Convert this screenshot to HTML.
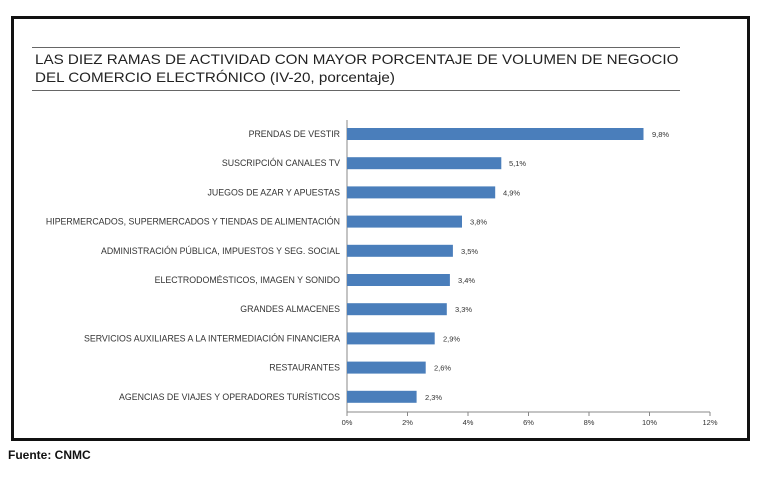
<!DOCTYPE html><html><head><meta charset="utf-8"><style>
body{margin:0;width:768px;height:483px;background:#fff;overflow:hidden;font-family:"Liberation Sans",sans-serif}
</style></head><body>
<div style="position:absolute;left:11px;top:16px;width:733px;height:419px;border:3px solid #111"></div>
<div style="position:absolute;left:32px;top:47px;width:648px;height:42px;border-top:1px solid #666;border-bottom:1px solid #666"></div>
<div style="position:absolute;left:35px;top:50px;font-size:14px;line-height:18px;color:#222;white-space:nowrap;transform:scaleX(1.085);transform-origin:0 0">LAS DIEZ RAMAS DE ACTIVIDAD CON MAYOR PORCENTAJE DE VOLUMEN DE NEGOCIO<br>DEL COMERCIO ELECTRÓNICO (IV-20, porcentaje)</div>
<svg width="768" height="483" style="position:absolute;left:0;top:0" font-family="Liberation Sans" font-size="7.5" fill="#333">
<line x1="347" y1="120" x2="347" y2="412" stroke="#888"/>
<line x1="347" y1="412" x2="710" y2="412" stroke="#888"/>
<g stroke="#888">
<line x1="347" y1="412" x2="347" y2="416"/><line x1="407.5" y1="412" x2="407.5" y2="416"/><line x1="468" y1="412" x2="468" y2="416"/><line x1="528.5" y1="412" x2="528.5" y2="416"/><line x1="589" y1="412" x2="589" y2="416"/><line x1="649.5" y1="412" x2="649.5" y2="416"/><line x1="710" y1="412" x2="710" y2="416"/>
</g>
<g text-anchor="middle">
<text x="347" y="425">0%</text><text x="407.5" y="425">2%</text><text x="468" y="425">4%</text><text x="528.5" y="425">6%</text><text x="589" y="425">8%</text><text x="649.5" y="425">10%</text><text x="710" y="425">12%</text>
</g>
<g fill="#4a7ebb">
<rect x="347" y="128" width="296.5" height="12"/>
<rect x="347" y="157.2" width="154.3" height="12"/>
<rect x="347" y="186.4" width="148.2" height="12"/>
<rect x="347" y="215.6" width="115" height="12"/>
<rect x="347" y="244.8" width="105.9" height="12"/>
<rect x="347" y="274" width="102.9" height="12"/>
<rect x="347" y="303.2" width="99.8" height="12"/>
<rect x="347" y="332.4" width="87.7" height="12"/>
<rect x="347" y="361.6" width="78.7" height="12"/>
<rect x="347" y="390.8" width="69.6" height="12"/>
</g>
<g text-anchor="end" font-size="8.8">
<text x="340" y="137">PRENDAS DE VESTIR</text>
<text x="340" y="166.2">SUSCRIPCIÓN CANALES TV</text>
<text x="340" y="195.4">JUEGOS DE AZAR Y APUESTAS</text>
<text x="340" y="224.6">HIPERMERCADOS, SUPERMERCADOS Y TIENDAS DE ALIMENTACIÓN</text>
<text x="340" y="253.8">ADMINISTRACIÓN PÚBLICA, IMPUESTOS Y SEG. SOCIAL</text>
<text x="340" y="283">ELECTRODOMÉSTICOS,  IMAGEN Y SONIDO</text>
<text x="340" y="312.2">GRANDES ALMACENES</text>
<text x="340" y="341.4">SERVICIOS AUXILIARES A LA INTERMEDIACIÓN FINANCIERA</text>
<text x="340" y="370.6">RESTAURANTES</text>
<text x="340" y="399.8">AGENCIAS DE VIAJES Y OPERADORES TURÍSTICOS</text>
</g>
<g>
<text x="652" y="137">9,8%</text>
<text x="509" y="166.2">5,1%</text>
<text x="503" y="195.4">4,9%</text>
<text x="470" y="224.6">3,8%</text>
<text x="461" y="253.8">3,5%</text>
<text x="458" y="283">3,4%</text>
<text x="455" y="312.2">3,3%</text>
<text x="443" y="341.4">2,9%</text>
<text x="434" y="370.6">2,6%</text>
<text x="425" y="399.8">2,3%</text>
</g>
</svg>
<div style="position:absolute;left:8px;top:448px;font-size:12px;font-weight:bold;color:#111">Fuente: CNMC</div>
</body></html>
